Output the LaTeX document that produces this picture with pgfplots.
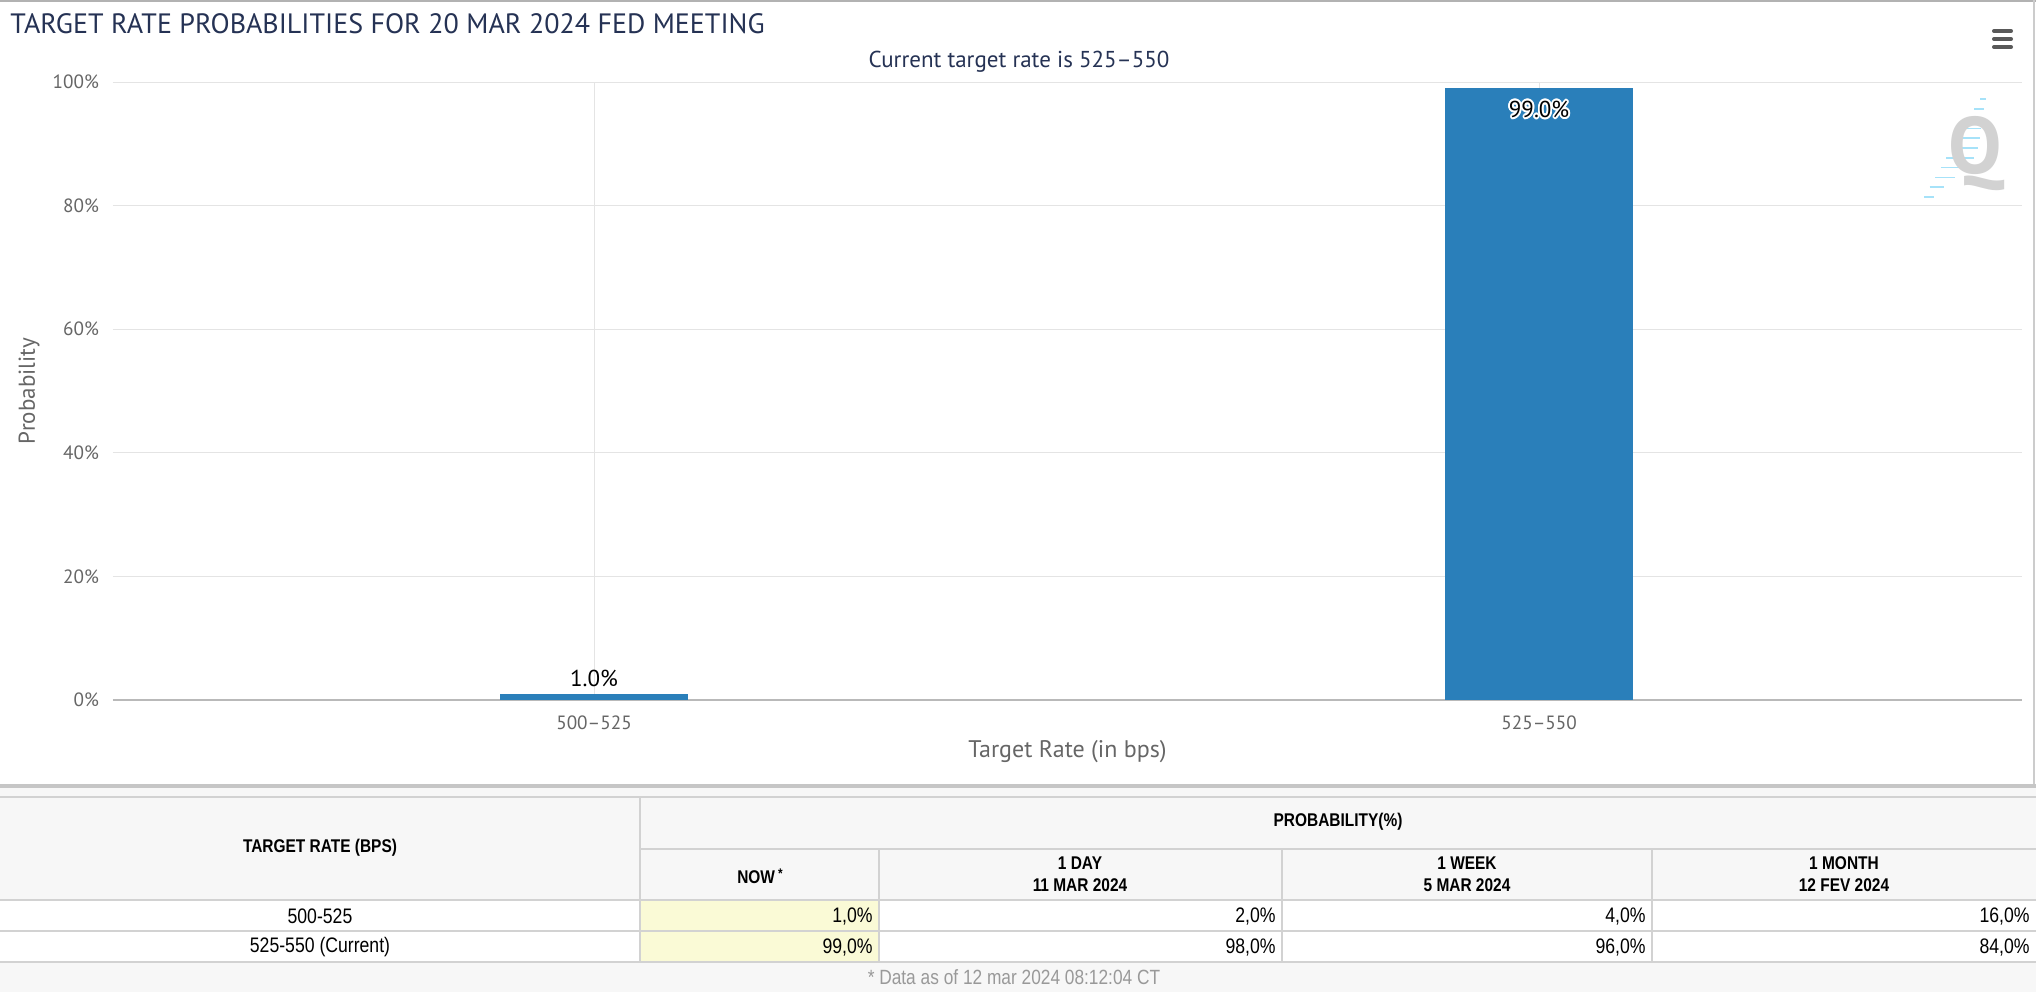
\documentclass[border=0pt]{standalone}
\usepackage{pgfplots}
\pgfplotsset{compat=1.18}
\usepackage{fontspec}
\usepackage{contour}
\contourlength{0.9pt}
\setmainfont{PT Sans}
\newfontfamily\tabfont[FakeStretch=0.84]{Liberation Sans}
\definecolor{barblue}{RGB}{42,127,186}
\definecolor{titlecol}{RGB}{37,50,84}
\definecolor{axisgray}{RGB}{102,102,102}
\definecolor{gridgray}{RGB}{228,228,228}
\definecolor{nowyellow}{RGB}{250,250,214}
\definecolor{headbg}{RGB}{247,247,247}
\definecolor{tabline}{RGB}{210,210,210}
\begin{document}
\begin{tikzpicture}
\begin{scope}[x=0.5pt,y=-0.5pt]
\path[use as bounding box] (0,0) rectangle (2036,992);
\fill[white] (0,0) rectangle (2036,992);
% chart frame
\draw[gray!60, line width=1pt] (0,1) -- (2036,1);
\draw[gray!40, line width=0.6pt] (2034,0) -- (2034,786);
\fill[headbg] (0,786) rectangle (2036,900);
\fill[gray!45] (0,784) rectangle (2036,788);
% title
\node[anchor=west, text=titlecol, font=\fontsize{14}{17}\selectfont, inner sep=0pt] at (10,24) {TARGET RATE PROBABILITIES FOR 20 MAR 2024 FED MEETING};
\node[text=titlecol, font=\fontsize{11.5}{14}\selectfont, inner sep=0pt] at (1019,62) {Current target rate is 525--550};
% hamburger
\foreach \yy in {31,39,47} \draw[gray!70!black, line width=2pt, line cap=round] (1994,\yy) -- (2011,\yy);
% watermark
\foreach \k/\l in {0/6,1/10,2/14,3/18,4/22,5/26,6/28,7/24,8/20,9/14,10/10}
  \draw[cyan!35, line width=0.8pt] ({1980-5.6*\k},{99+9.8*\k}) -- ++({\l},0);
\node[text=gray!35, font=\fontsize{40}{40}\selectfont\bfseries, inner sep=0pt] at (1975,154) {Q};
% table
\draw[tabline, line width=0.6pt] (0,797) -- (2036,797);
\fill[nowyellow] (640,900) rectangle (879,962);
\fill[headbg] (0,962) rectangle (2036,992);
\draw[tabline, line width=0.6pt] (640,849) -- (2036,849);
\foreach \yy in {900,931,962} \draw[tabline, line width=0.6pt] (0,\yy) -- (2036,\yy);
\draw[tabline, line width=0.6pt] (640,797) -- (640,962);
\foreach \xx in {879,1282,1652} \draw[tabline, line width=0.6pt] (\xx,849) -- (\xx,962);
\begin{scope}[every node/.style={font=\tabfont\bfseries\fontsize{9.2}{11}\selectfont, align=center, inner sep=0pt}]
\node at (320,848) {TARGET RATE (BPS)};
\node at (1338,822) {PROBABILITY(\%)};
\node at (760,876) {NOW\,\raisebox{0.5ex}{\scriptsize *}};
\node at (1080,874) {1 DAY\\11 MAR 2024};
\node at (1467,874) {1 WEEK\\5 MAR 2024};
\node at (1844,874) {1 MONTH\\12 FEV 2024};
\end{scope}
\begin{scope}[every node/.style={font=\tabfont\fontsize{10.5}{12}\selectfont, inner sep=0pt}]
\node at (320,916) {500-525};
\node at (320,947) {525-550 (Current)};
\node[anchor=east] at (873,916) {1,0\%};
\node[anchor=east] at (873,947) {99,0\%};
\node[anchor=east] at (1276,916) {2,0\%};
\node[anchor=east] at (1276,947) {98,0\%};
\node[anchor=east] at (1646,916) {4,0\%};
\node[anchor=east] at (1646,947) {96,0\%};
\node[anchor=east] at (2030,916) {16,0\%};
\node[anchor=east] at (2030,947) {84,0\%};
\node[text=gray!80, font=\tabfont\fontsize{10.3}{12}\selectfont] at (1014,977) {* Data as of 12 mar 2024 08:12:04 CT};
\end{scope}
\end{scope}
\begin{axis}[
  at={(56.5pt,-350pt)}, anchor=south west,
  scale only axis, width=954.5pt, height=309pt,
  xmin=-0.509, xmax=1.511, ymin=0, ymax=100,
  enlargelimits=false,
  xtick={0,1}, xticklabels={500--525,525--550},
  ytick={0,20,...,100},
  yticklabel={\pgfmathprintnumber{\tick}\%},
  /pgf/number format/assume math mode=true,
  grid=major, major grid style={gridgray, line width=0.5pt},
  axis x line*=bottom, axis y line*=left,
  x axis line style={draw=gray!55, line width=0.8pt, -},
  y axis line style={draw=none},
  tick style={draw=none},
  ticklabel style={font=\fontsize{9.6}{12}\selectfont, text=axisgray},
  yticklabel style={xshift=-3.5pt},
  xticklabel style={yshift=-4.5pt},
  xlabel={Target Rate (in bps)},
  ylabel={Probability},
  xlabel style={at={(axis description cs:0.5,-0.084)}, anchor=center, font=\fontsize{12}{14}\selectfont, text=axisgray},
  ylabel style={at={(axis description cs:-0.044,0.5)}, anchor=center, font=\fontsize{11.5}{14}\selectfont, text=axisgray},
]
\addplot[ybar, bar width=94pt, bar shift=0pt, fill=barblue, draw=none,
  nodes near coords={\pgfmathprintnumber[fixed,fixed zerofill,precision=1]{\pgfplotspointmeta}\%},
  nodes near coords style={anchor=south, font=\fontsize{11.5}{14}\selectfont, text=black}]
  coordinates {(0,1.0)};
\addplot[ybar, bar width=94pt, bar shift=0pt, fill=barblue, draw=none,
  nodes near coords={\contour{white}{\pgfmathprintnumber[fixed,fixed zerofill,precision=1]{\pgfplotspointmeta}\%}},
  nodes near coords style={anchor=north, yshift=-3pt, font=\fontsize{11.5}{14}\selectfont, text=black}]
  coordinates {(1,99.0)};
\end{axis}
\end{tikzpicture}
\end{document}
